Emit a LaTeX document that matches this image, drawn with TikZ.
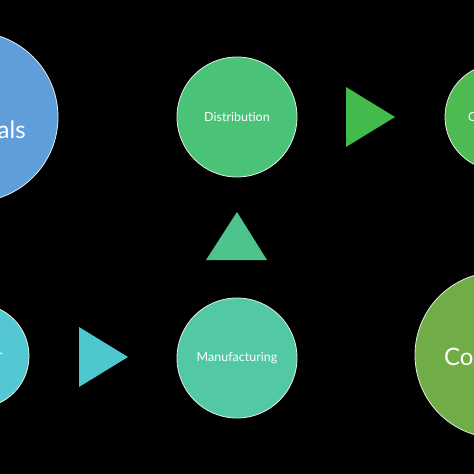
\documentclass[tikz,border=0pt]{standalone}
\usepackage{fontspec}
\setmainfont{Lato}
\definecolor{cblue}{RGB}{95,158,218}
\definecolor{cdist}{RGB}{74,194,120}
\definecolor{ctriA}{RGB}{66,186,76}
\definecolor{ccons}{RGB}{78,186,82}
\definecolor{ctriB}{RGB}{76,196,140}
\definecolor{cmanu}{RGB}{82,200,165}
\definecolor{csupp}{RGB}{84,200,210}
\definecolor{ctriC}{RGB}{78,200,206}
\definecolor{cbig}{RGB}{112,173,71}
\definecolor{crim}{RGB}{225,240,225}
\tikzset{
  stage/.style={circle, draw=crim, line width=0.8pt, inner sep=0pt},
  small/.style={text=white, inner sep=0pt, font=\fontsize{12.5}{15}\selectfont},
  large/.style={text=white, inner sep=0pt, font=\fontsize{24}{28}\selectfont},
}
\begin{document}
\begin{tikzpicture}[x=1pt,y=-1pt]
\fill[black] (0,0) rectangle (474,474);
\useasboundingbox (0,0) rectangle (474,474);
\clip (0,0) rectangle (474,474);
\node[stage, fill=cblue, minimum size=170pt] (mat) at (-27,117) {};
\node[stage, fill=cdist, minimum size=120pt] (dist) at (237,117) {};
\node[stage, fill=ccons, minimum size=106pt] (cust) at (498,117) {};
\node[stage, fill=csupp, minimum size=104pt] (supp) at (-23,356) {};
\node[stage, fill=cmanu, minimum size=120pt] (manu) at (237,358) {};
\node[stage, fill=cbig, minimum size=166pt] (cons) at (498,355) {};
\node[large] (matT) at ([xshift=4pt,yshift=-13pt]mat.center) {Materials};
\node[small] (distT) at (dist.center) {Distribution};
\node[small] (custT) at ([xshift=-3pt]cust.center) {Customer};
\node[small] (suppT) at ([xshift=3pt]supp.center) {Supplier};
\node[small] (manuT) at (manu.center) {Manufacturing};
\node[large] (consT) at ([yshift=-2pt]cons.center) {Consumer};
\fill[ctriA] (346,87) -- (346,147) -- (395,117) -- cycle;
\fill[ctriB] (206,260) -- (267,260) -- (237,212) -- cycle;
\fill[ctriC] (79,327) -- (79,387) -- (128,357) -- cycle;
\end{tikzpicture}
\end{document}
